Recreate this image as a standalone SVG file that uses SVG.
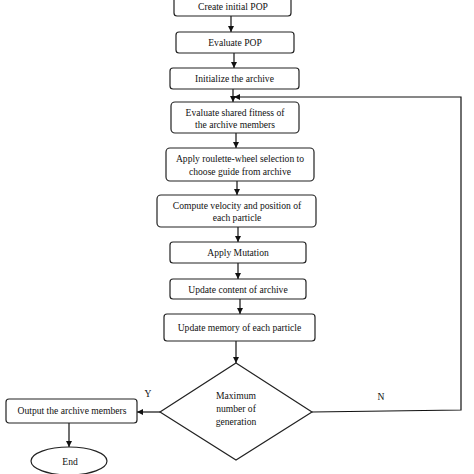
<svg xmlns="http://www.w3.org/2000/svg" width="474" height="474" viewBox="0 0 474 474">
<defs>
<marker id="ah" viewBox="0 0 10 10" refX="10" refY="5" markerWidth="6" markerHeight="6" markerUnits="userSpaceOnUse" orient="auto">
<path d="M0,0 L10,5 L0,10 z" fill="#111"/>
</marker>
</defs>
<style>
.box{fill:#fff;stroke:#222;stroke-width:1.2}
.t{font-family:"Liberation Serif","Times New Roman",serif;font-size:9.6px;fill:#111;text-anchor:middle}
.c{fill:none;stroke:#111;stroke-width:1.2}
.a{marker-end:url(#ah)}
</style>
<rect width="474" height="474" fill="#fff"/>
<g id="connectors">
<line class="c a" x1="231" y1="16" x2="231" y2="32"/>
<line class="c a" x1="234" y1="53" x2="234" y2="68"/>
<line class="c a" x1="233" y1="89" x2="233" y2="102"/>
<line class="c a" x1="236" y1="133" x2="236" y2="148"/>
<line class="c a" x1="237" y1="181" x2="237" y2="195"/>
<line class="c a" x1="238" y1="227" x2="238" y2="242"/>
<line class="c a" x1="238" y1="263" x2="238" y2="279"/>
<line class="c a" x1="240" y1="299" x2="240" y2="314"/>
<line class="c a" x1="236" y1="341" x2="236" y2="363"/>
<polyline class="c a" points="312,412 461,410 461,97 234,97"/>
<line class="c a" x1="160" y1="412" x2="137" y2="412"/>
<line class="c a" x1="69" y1="423" x2="69" y2="447"/>
<text class="t" x="148" y="397">Y</text>
<text class="t" x="381" y="400">N</text>
</g>
<g id="n1"><rect class="box" x="174" y="-6" width="117" height="22" rx="3"/><text class="t" x="233" y="10">Create initial POP</text></g>
<g id="n2"><rect class="box" x="176" y="32" width="118" height="21" rx="3"/><text class="t" x="235" y="46">Evaluate POP</text></g>
<g id="n3"><rect class="box" x="170" y="68" width="129" height="21" rx="3"/><text class="t" x="234.5" y="82">Initialize the archive</text></g>
<g id="n4"><rect class="box" x="171" y="102" width="128" height="31" rx="4"/><text class="t" x="235" y="116">Evaluate shared fitness of</text><text class="t" x="235" y="128">the archive members</text></g>
<g id="n5"><rect class="box" x="166" y="148" width="148" height="33" rx="4"/><text class="t" x="240" y="162">Apply roulette-wheel selection to</text><text class="t" x="240" y="175">choose guide from archive</text></g>
<g id="n6"><rect class="box" x="157" y="195" width="159" height="32" rx="4"/><text class="t" x="237" y="209">Compute velocity and position of</text><text class="t" x="237" y="221">each particle</text></g>
<g id="n7"><rect class="box" x="170" y="242" width="136" height="21" rx="3"/><text class="t" x="238" y="256">Apply Mutation</text></g>
<g id="n8"><rect class="box" x="170" y="279" width="136" height="20" rx="3"/><text class="t" x="238" y="293">Update content of archive</text></g>
<g id="n9"><rect class="box" x="164" y="314" width="151" height="27" rx="3"/><text class="t" x="239.5" y="331">Update memory of each particle</text></g>
<g id="n10"><polygon class="box" points="236,363 312,412 236,460 160,412"/><text class="t" x="236" y="399">Maximum</text><text class="t" x="236" y="412">number of</text><text class="t" x="236" y="425">generation</text></g>
<g id="n11"><rect class="box" x="6" y="399" width="131" height="24" rx="3"/><text class="t" x="72" y="414">Output the archive members</text></g>
<g id="n12"><ellipse class="box" cx="69" cy="461" rx="38" ry="14"/><text class="t" x="70" y="465">End</text></g>
</svg>
